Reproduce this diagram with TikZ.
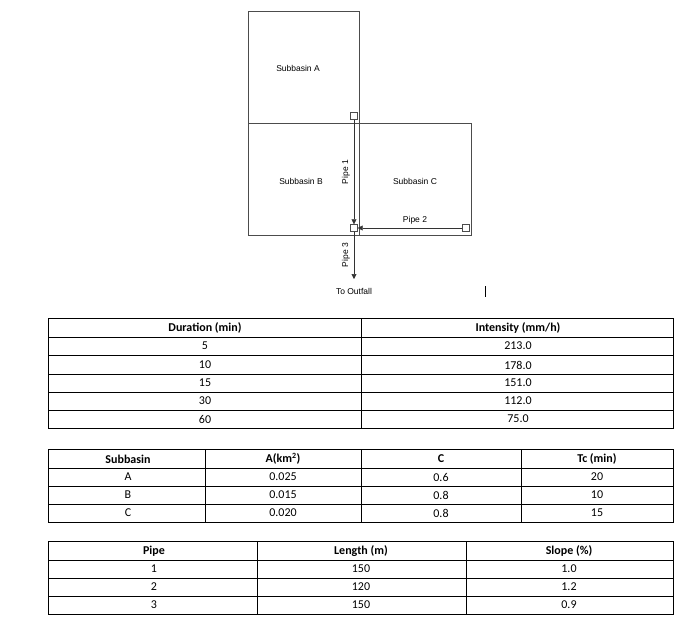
\documentclass[tikz,border=0pt]{standalone}
\usepackage{fontspec}
\setmainfont{Carlito}
\newfontfamily\arialf{Liberation Sans}
\usetikzlibrary{arrows.meta}
\begin{document}
\begin{tikzpicture}[x=1pt,y=-1pt,
  lbl/.style={font=\arialf\fontsize{8.5}{9}\selectfont,inner sep=0},
  cell/.style={font=\fontsize{12}{13}\selectfont,inner sep=0},
  hd/.style={font=\bfseries\fontsize{12}{13}\selectfont,inner sep=0},
  jn/.style={draw=black!70,fill=white,minimum size=7pt,inner sep=0},
  pipe/.style={draw=black!80,line width=0.6pt,-{Triangle[length=5pt,width=5pt]}},
  box/.style={draw=black!70,line width=0.5pt},
  tab/.style={draw=black,line width=0.6pt}]
\useasboundingbox (0,0) rectangle (686,625);
% subbasins
\draw[box] (248,11) rectangle (359,123);
\draw[box] (248,123) rectangle (359,235);
\draw[box] (359,123) rectangle (471,235);
\node[lbl] (sa) at (298,68) {Subbasin A};
\node[lbl] (sb) at (301,181) {Subbasin B};
\node[lbl] (sc) at (415,181) {Subbasin C};
% junctions
\node[jn] (j1) at (354,116) {};
\node[jn] (j2) at (354,228) {};
\node[jn] (j3) at (466,228) {};
\coordinate (out) at (354,279);
\draw[pipe] (j1) -- (j2);
\draw[pipe] (j3) -- (j2);
\draw[pipe] (j2) -- (out);
\node[lbl,rotate=90] (p1) at (346,172) {Pipe 1};
\node[lbl] (p2) at (415,220) {Pipe 2};
\node[lbl,rotate=90] (p3) at (346,255) {Pipe 3};
\node[lbl] (to) at (354,291) {To Outfall};
\draw[black,line width=0.5pt] (485,286) -- (485,297);
% table 1
\draw[tab] (48,318) rectangle (673,428);
\foreach \y in {337,355,374,392,410} \draw[tab] (48,\y) -- (673,\y);
\draw[tab] (361,318) -- (361,428);
\node[hd] at (205,328) {Duration (min)};
\node[hd] at (518,328) {Intensity (mm/h)};
\foreach \a/\b/\y in {5/213.0/346,10/178.0/365,15/151.0/383,30/112.0/401,60/75.0/419}{
  \node[cell] at (205,\y) {\a};
  \node[cell] at (518,\y) {\b};}
% table 2
\draw[tab] (48,449) rectangle (673,522);
\foreach \y in {468,486,504} \draw[tab] (48,\y) -- (673,\y);
\foreach \x in {205,361,521} \draw[tab] (\x,449) -- (\x,522);
\node[hd] at (128,459) {Subbasin};
\node[hd] at (283,459) {A(km\textsuperscript{2})};
\node[hd] at (441,459) {C};
\node[hd] at (597,459) {Tc (min)};
\foreach \a/\b/\c/\d/\y in {A/0.025/0.6/20/477,B/0.015/0.8/10/495,C/0.020/0.8/15/513}{
  \node[cell] at (128,\y) {\a};
  \node[cell] at (283,\y) {\b};
  \node[cell] at (441,\y) {\c};
  \node[cell] at (597,\y) {\d};}
% table 3
\draw[tab] (48,541) rectangle (673,614);
\foreach \y in {560,578,596} \draw[tab] (48,\y) -- (673,\y);
\foreach \x in {257,466} \draw[tab] (\x,541) -- (\x,614);
\node[hd] at (154,551) {Pipe};
\node[hd] at (361,551) {Length (m)};
\node[hd] at (569,551) {Slope (\%)};
\foreach \a/\b/\c/\y in {1/150/1.0/569,2/120/1.2/587,3/150/0.9/605}{
  \node[cell] at (154,\y) {\a};
  \node[cell] at (361,\y) {\b};
  \node[cell] at (569,\y) {\c};}
\end{tikzpicture}
\end{document}
